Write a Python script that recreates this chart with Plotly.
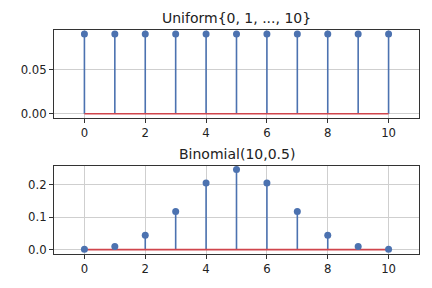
import plotly.graph_objects as go
from math import comb

k_values = list(range(11))
uniform_pmf = [1/11]*11
binom_pmf = [comb(10, k) * 0.5**10 for k in k_values]
titles = ["Uniform{0, 1, ..., 10}", "Binomial(10,0.5)"]
top_yticks = [0.0, 0.05]
top_yticklabels = ["0.00", "0.05"]
bot_yticks = [0.0, 0.1, 0.2]
bot_yticklabels = ["0.0", "0.1", "0.2"]
x_ticks = [0, 2, 4, 6, 8, 10]

BLUE = "#4C72B0"
RED = "#D0454C"
FONT = "DejaVu Sans"

fig = go.Figure()

def add_stem(xs, ys, xa, ya):
    sx, sy = [], []
    for x, y in zip(xs, ys):
        sx += [x, x, None]
        sy += [0, y, None]
    fig.add_trace(go.Scatter(x=sx, y=sy, mode="lines", line=dict(color=BLUE, width=1.6),
                             xaxis=xa, yaxis=ya, showlegend=False, hoverinfo="skip"))
    fig.add_trace(go.Scatter(x=[min(xs), max(xs)], y=[0, 0], mode="lines",
                             line=dict(color=RED, width=1.6), xaxis=xa, yaxis=ya,
                             showlegend=False, hoverinfo="skip"))
    fig.add_trace(go.Scatter(x=xs, y=ys, mode="markers", marker=dict(color=BLUE, size=7),
                             xaxis=xa, yaxis=ya, showlegend=False))

add_stem(k_values, uniform_pmf, "x", "y")
add_stem(k_values, binom_pmf, "x2", "y2")

W, H = 432, 288
xdom = [54/W, 419/W]
top_dom = [1-119/H, 1-30.3/H]
bot_dom = [1-256.3/H, 1-167.3/H]

axis_common = dict(showline=True, mirror=True, linecolor="#333333", linewidth=0.9,
                   ticks="outside", ticklen=4, tickwidth=0.9, tickcolor="#333333",
                   showgrid=True, gridcolor="#cfcfcf", gridwidth=0.9, zeroline=False,
                   tickfont=dict(family=FONT, size=11.7, color="#222222"))

umax = max(uniform_pmf); bmax = max(binom_pmf)
fig.update_layout(
    width=W, height=H, margin=dict(l=0, r=0, t=0, b=0),
    paper_bgcolor="white", plot_bgcolor="white",
    xaxis=dict(domain=xdom, range=[-1, 11], tickvals=x_ticks, anchor="y", **axis_common),
    yaxis=dict(domain=top_dom, range=[-0.05*umax, 1.05*umax], tickvals=top_yticks,
               ticktext=top_yticklabels, anchor="x", **axis_common),
    xaxis2=dict(domain=xdom, range=[-1, 11], tickvals=x_ticks, anchor="y2", **axis_common),
    yaxis2=dict(domain=bot_dom, range=[-0.05*bmax, 1.05*bmax], tickvals=bot_yticks,
                ticktext=bot_yticklabels, anchor="x2", **axis_common),
    annotations=[
        dict(text=titles[0], x=(xdom[0]+xdom[1])/2, y=top_dom[1], xref="paper", yref="paper",
             xanchor="center", yanchor="bottom", yshift=2, showarrow=False,
             font=dict(family=FONT, size=14, color="#222222")),
        dict(text=titles[1], x=(xdom[0]+xdom[1])/2, y=bot_dom[1], xref="paper", yref="paper",
             xanchor="center", yanchor="bottom", yshift=2, showarrow=False,
             font=dict(family=FONT, size=14, color="#222222")),
    ],
)

fig.write_html("out.html")
